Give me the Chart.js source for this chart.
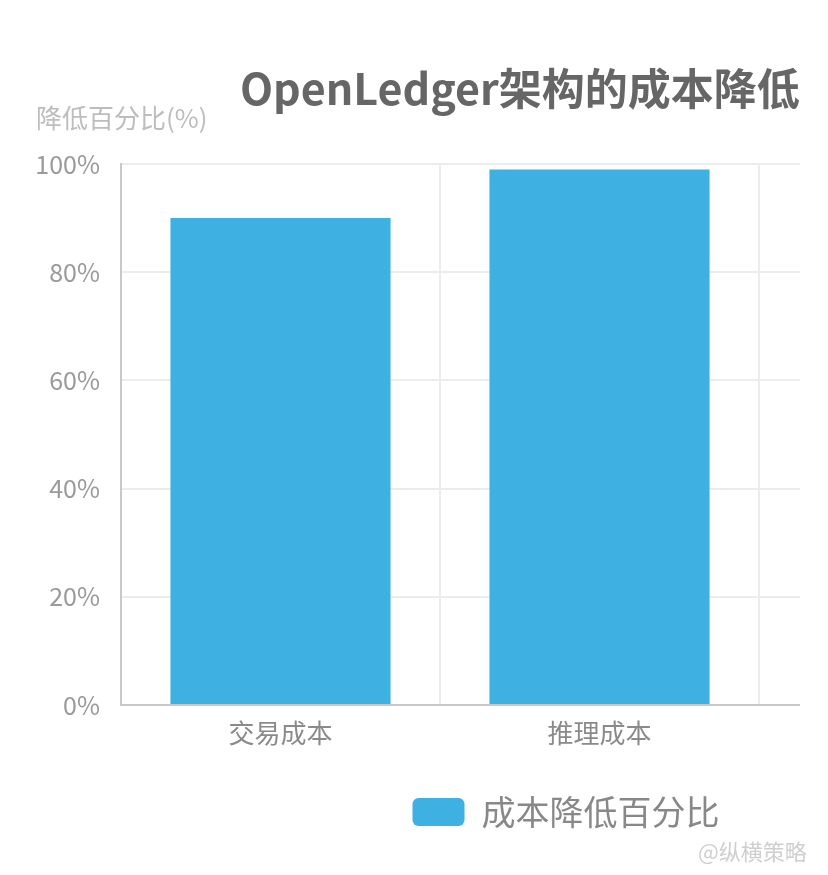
<!DOCTYPE html>
<html>
<head>
<meta charset="utf-8">
<script src="https://cdn.jsdelivr.net/npm/chart.js@4/dist/chart.umd.min.js"></script>
<style>
    html, body { margin: 0; padding: 0; background: #fff; overflow: hidden; }
    #wrap { position: relative; width: 828px; height: 875px; overflow: hidden; }
</style>
</head>
<body>
<div id="wrap">
    <canvas id="costChart" width="1100" height="875"></canvas>
</div>
<script>
// chart data (third category is cut off in the source picture)
const categories = ['交易成本', '推理成本', ''];
const reductionValues = [90, 99, null];
const seriesName = '成本降低百分比';
const yTicks = [0, 20, 40, 60, 80, 100];

const chartTitle = 'OpenLedger架构的成本降低';
const yAxisTitle = '降低百分比(%)';
const watermark = '@纵横策略';

const FONT = '"Noto Sans CJK SC", "Noto Sans", sans-serif';

// draws title, y axis name and the crop edge on top of the chart
const decorations = {
    id: 'decorations',
    afterLayout(chart) {
        // legend sits a bit right of the plot centre in the source
        chart.legend.left += 12;
        chart.legend.right += 12;
    },
    afterDraw(chart) {
        const ctx = chart.ctx;
        ctx.save();
        // the source image is cropped at x = 800
        ctx.fillStyle = '#fff';
        ctx.fillRect(800, 0, chart.width - 800, chart.height);

        ctx.textBaseline = 'middle';
        ctx.textAlign = 'left';
        ctx.fillStyle = '#666';
        ctx.font = 'bold 43px ' + FONT;
        ctx.fillText(chartTitle, 240, 89);

        ctx.fillStyle = '#bdbdbd';
        ctx.font = '26px ' + FONT;
        ctx.fillText(yAxisTitle, 36, 118);
        ctx.restore();
    }
};

const ctx = document.getElementById('costChart').getContext('2d');
const costChart = new Chart(ctx, {
    type: 'bar',
    data: {
        labels: categories,
        datasets: [{
            label: seriesName,
            data: reductionValues,
            backgroundColor: '#3eb0e2',
            borderWidth: 0,
            categoryPercentage: 1,
            barPercentage: 0.69
        }]
    },
    options: {
        responsive: false,
        animation: false,
        devicePixelRatio: 1,
        layout: {
            padding: { top: 164, left: 30, right: 22, bottom: 36 }
        },
        scales: {
            x: {
                grid: { color: '#ececec', lineWidth: 2, drawTicks: false, offset: true },
                border: { color: '#c8c8c8', width: 2 },
                ticks: { color: '#8a8a8a', font: { size: 26, family: FONT }, padding: 13 },
                afterFit: (scale) => { scale.height = 80; }
            },
            y: {
                min: 0,
                max: 100,
                grid: { color: '#ececec', lineWidth: 2, drawTicks: false },
                border: { color: '#c8c8c8', width: 2 },
                afterBuildTicks: (scale) => { scale.ticks = yTicks.map(v => ({ value: v })); },
                ticks: {
                    color: '#9a9a9a',
                    font: { size: 25, family: FONT },
                    padding: 21,
                    callback: (v) => v + '%'
                },
                afterFit: (scale) => { scale.width = 91; }
            }
        },
        plugins: {
            legend: {
                position: 'bottom',
                labels: {
                    boxWidth: 52,
                    boxHeight: 28,
                    useBorderRadius: true,
                    borderRadius: 6,
                    color: '#888',
                    font: { size: 34, family: FONT },
                    padding: 10
                }
            },
            tooltip: { enabled: false }
        }
    },
    plugins: [decorations]
});
</script>
<div style="position:absolute; left:698px; top:834px; font: 22px 'Noto Sans CJK SC', sans-serif; color:#cfcfcf;">@纵横策略</div>
</body>
</html>
